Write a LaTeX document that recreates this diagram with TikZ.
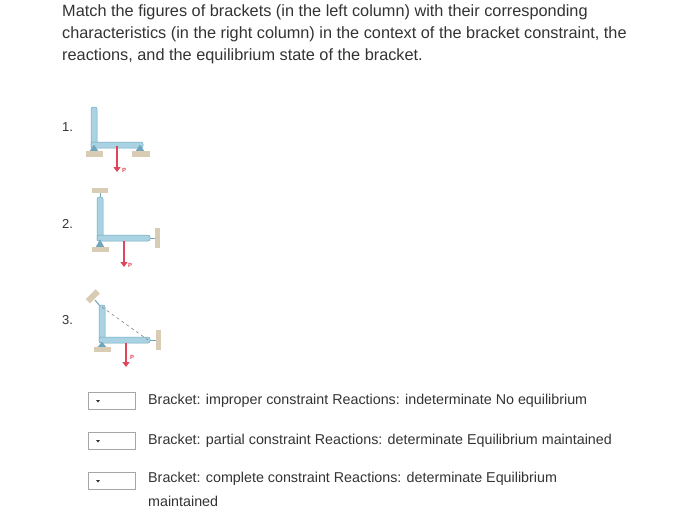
\documentclass[tikz,border=0pt]{standalone}
\usepackage{fontspec}
\setmainfont{Liberation Sans}
\usetikzlibrary{arrows.meta,calc}
\definecolor{bar}{HTML}{A9D3E3}
\definecolor{bare}{HTML}{6FA6BD}
\definecolor{gnd}{HTML}{D9CCB4}
\definecolor{arr}{HTML}{E0455A}
\definecolor{txt}{HTML}{333333}
\tikzset{
 beam/.style={draw=bare,fill=bar,line width=0.5pt,rounded corners=2pt},
 ground/.style={fill=gnd,draw=none},
 load/.style={draw=arr,line width=2pt,-{Triangle[length=5pt,width=7pt]}},
 plab/.style={text=arr,font=\bfseries\fontsize{6}{6}\selectfont,inner sep=0},
 num/.style={text=txt,font=\fontsize{13}{15}\selectfont,anchor=west,inner sep=0},
 opt/.style={text=txt,font=\fontsize{14.3}{24}\selectfont,anchor=west,inner sep=0,align=left},
 dd/.style={draw=gray!70,minimum width=47pt,minimum height=17pt,inner sep=0,anchor=west},
 pin/.style={fill=bare,draw=bare}
}
\begin{document}
\begin{tikzpicture}[x=1pt,y=-1pt]
\useasboundingbox (0,0) rectangle (700,523);
\node[text=txt,font=\fontsize{16.3}{22}\selectfont,anchor=north west,align=left,inner sep=0] (q) at (62,4)
{Match the figures of brackets (in the left column) with their corresponding\\characteristics (in the right column) in the context of the bracket constraint, the\\reactions, and the equilibrium state of the bracket.};
% Figure 1
\node[num] (n1) at (62,127) {1.};
\fill[beam] (91,107) rectangle (97,148);
\fill[beam] (91,142) rectangle (143,148);
\fill[pin] (94,145) -- (90,151) -- (98,151) -- cycle;
\fill[pin] (140,145) -- (136,151) -- (144,151) -- cycle;
\fill[ground] (86,151) rectangle (103,157);
\fill[ground] (132,151) rectangle (150,157);
\coordinate (a1) at (117,146); \coordinate (b1) at (117,172);
\draw[load] (a1) -- (b1);
\node[plab] (p1) at (124,170) {P};
% Figure 2
\node[num] (n2) at (62,224) {2.};
\fill[ground] (92,188) rectangle (108,193);
\draw[bare,line width=1pt] (100,193) -- (100,199);
\fill[beam] (97,197) rectangle (103,241);
\fill[beam] (97,235) rectangle (150,241);
\draw[bare,line width=1pt] (150,238) -- (155,238);
\fill[ground] (155,228) rectangle (160,248);
\fill[pin] (100,240) -- (96,247) -- (104,247) -- cycle;
\fill[ground] (92,247) rectangle (109,252);
\coordinate (a2) at (124,241); \coordinate (b2) at (124,267);
\draw[load] (a2) -- (b2);
\node[plab] (p2) at (130,265) {P};
% Figure 3
\node[num] (n3) at (62,320) {3.};
\fill[ground,rotate around={45:(92,297)}] (86,294) rectangle (100,300);
\draw[bare,line width=1pt] (95,300) -- (100,306);
\fill[beam] (99,305) rectangle (105,343);
\fill[beam] (99,337) rectangle (150,343);
\draw[gray,dashed,line width=0.6pt] (102,307) -- (148,340);
\draw[bare,line width=1pt] (150,340) -- (156,340);
\fill[ground] (156,330) rectangle (161,350);
\fill[pin] (102,342) -- (98,347) -- (106,347) -- cycle;
\fill[ground] (94,347) rectangle (111,352);
\coordinate (a3) at (126,343); \coordinate (b3) at (126,367);
\draw[load] (a3) -- (b3);
\node[plab] (p3) at (132,357) {P};
% options
\foreach \y/\t [count=\i] in {401/{Bracket: improper constraint Reactions: indeterminate No equilibrium},
 441/{Bracket: partial constraint Reactions: determinate Equilibrium maintained}}{
 \node[dd] (d\i) at (88,\y) {};
 \fill[txt] ($(d\i.west)+(8,-1)$) -- ++(4,0) -- ++(-2,2.5) -- cycle;
 \node[opt] (o\i) at (148,\y) {\t};
}
\node[dd] (d3) at (88,481) {};
\fill[txt] ($(d3.west)+(8,-1)$) -- ++(4,0) -- ++(-2,2.5) -- cycle;
\node[opt,anchor=north west] (o3) at (148,472) {Bracket: complete constraint Reactions: determinate Equilibrium\\maintained};
\end{tikzpicture}
\end{document}
